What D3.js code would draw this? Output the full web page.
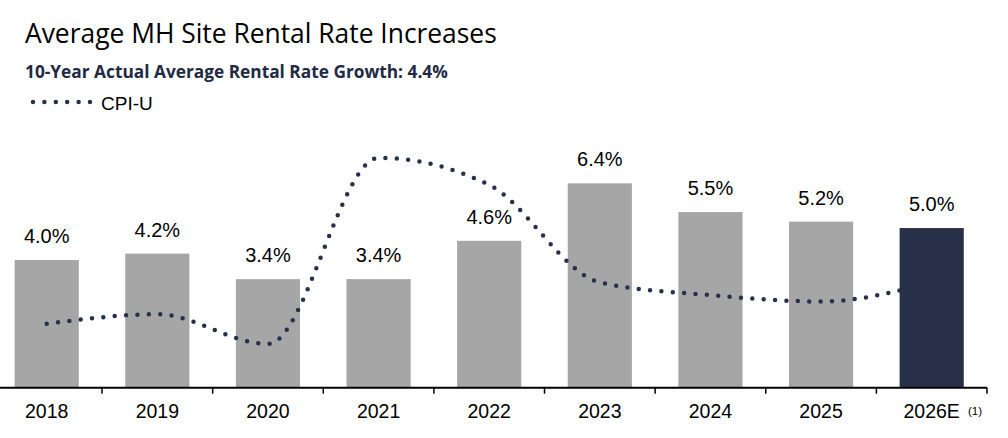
<!DOCTYPE html>
<html>
<head>
<meta charset="utf-8">
<script src="https://cdn.jsdelivr.net/npm/d3@7"></script>
<style>
  html, body { margin: 0; padding: 0; background: #fff; }
  svg { display: block; }
</style>
</head>
<body>
<div id="chart"></div>
<script>
// data
const years = ["2018", "2019", "2020", "2021", "2022", "2023", "2024", "2025", "2026E"];
const rentGrowth = [4.0, 4.2, 3.4, 3.4, 4.6, 6.4, 5.5, 5.2, 5.0];
const cpiU = [2.0, 2.3, 1.37, 7.2, 6.35, 3.3, 2.9, 2.7, 3.3];
const estimateYears = ["2026E"];

const W = 1008, H = 438;
const navy = "#283149";
const gray = "#a6a6a6";
const labelFont = "'Liberation Sans', Arial, sans-serif";

const svg = d3.select("#chart").append("svg")
    .attr("width", W)
    .attr("height", H)
    .attr("viewBox", `0 0 ${W} ${H}`);

// scales
const x = d3.scaleBand()
    .domain(years)
    .range([-8.6, 987])
    .paddingInner(0.42)
    .paddingOuter(0.21);

const baseY = 387.7;
const y = d3.scaleLinear()
    .domain([0, 7])
    .range([baseY, baseY - 7 * 31.93]);

const cx = d => x(d) + x.bandwidth() / 2;

// fit a text element to a target width
function fitWidth(sel, target) {
  const node = sel.node();
  const fs = parseFloat(sel.attr("font-size"));
  const w = node.getComputedTextLength();
  if (w > 0) sel.attr("font-size", (fs * target / w).toFixed(2));
}

// title
const title = svg.append("text")
    .attr("x", 25)
    .attr("y", 43)
    .attr("font-family", "'Open Sans', 'Noto Sans', sans-serif")
    .attr("font-size", 25)
    .attr("fill", "#000")
    .text("Average MH Site Rental Rate Increases");
fitWidth(title, 472);

const subtitle = svg.append("text")
    .attr("x", 25)
    .attr("y", 78)
    .attr("font-family", "'Open Sans', 'Noto Sans', sans-serif")
    .attr("font-weight", "bold")
    .attr("font-size", 17)
    .attr("fill", "#1f2a44")
    .text("10-Year Actual Average Rental Rate Growth: 4.4%");
fitWidth(subtitle, 423);

// legend
svg.append("line")
    .attr("x1", 33).attr("x2", 91)
    .attr("y1", 102).attr("y2", 102)
    .attr("stroke", navy)
    .attr("stroke-width", 4.5)
    .attr("stroke-linecap", "round")
    .attr("stroke-dasharray", "0 11.4");

svg.append("text")
    .attr("x", 101)
    .attr("y", 110)
    .attr("font-family", labelFont)
    .attr("font-size", 19)
    .attr("fill", "#000")
    .text("CPI-U");

// bars
svg.append("g")
  .selectAll("rect")
  .data(years)
  .join("rect")
    .attr("x", d => x(d))
    .attr("y", (d, i) => y(rentGrowth[i]))
    .attr("width", x.bandwidth())
    .attr("height", (d, i) => y(0) - y(rentGrowth[i]))
    .attr("fill", d => estimateYears.includes(d) ? navy : gray);

// bar value labels
svg.append("g")
  .selectAll("text")
  .data(years)
  .join("text")
    .attr("x", d => cx(d))
    .attr("y", (d, i) => y(rentGrowth[i]) - 17)
    .attr("text-anchor", "middle")
    .attr("font-family", labelFont)
    .attr("font-size", 20)
    .attr("fill", "#000")
    .text((d, i) => rentGrowth[i].toFixed(1) + "%");

// CPI-U dotted line
const line = d3.line()
    .x((d, i) => cx(years[i]))
    .y(d => y(d))
    .curve(d3.curveMonotoneX);

svg.append("path")
    .datum(cpiU)
    .attr("d", line)
    .attr("fill", "none")
    .attr("stroke", navy)
    .attr("stroke-width", 4.5)
    .attr("stroke-linecap", "round")
    .attr("stroke-dasharray", "0 11.4");

// x axis
const axis = svg.append("g");
const x0 = x.range()[0], step = x.step();

axis.append("line")
    .attr("x1", 0).attr("x2", x.range()[1])
    .attr("y1", baseY).attr("y2", baseY)
    .attr("stroke", "#000")
    .attr("stroke-width", 2);

axis.selectAll("line.tick")
  .data(d3.range(1, years.length + 1))
  .join("line")
    .attr("class", "tick")
    .attr("x1", i => x0 + i * step).attr("x2", i => x0 + i * step)
    .attr("y1", baseY).attr("y2", baseY + 6)
    .attr("stroke", "#000")
    .attr("stroke-width", 1.5);

axis.selectAll("text.year")
  .data(years)
  .join("text")
    .attr("class", "year")
    .attr("x", d => cx(d))
    .attr("y", 418)
    .attr("text-anchor", "middle")
    .attr("font-family", labelFont)
    .attr("font-size", 19.5)
    .attr("fill", "#000")
    .text(d => d);

// footnote marker
svg.append("text")
    .attr("x", 968)
    .attr("y", 415)
    .attr("font-family", labelFont)
    .attr("font-size", 11.5)
    .attr("fill", "#000")
    .text("(1)");
</script>
</body>
</html>
